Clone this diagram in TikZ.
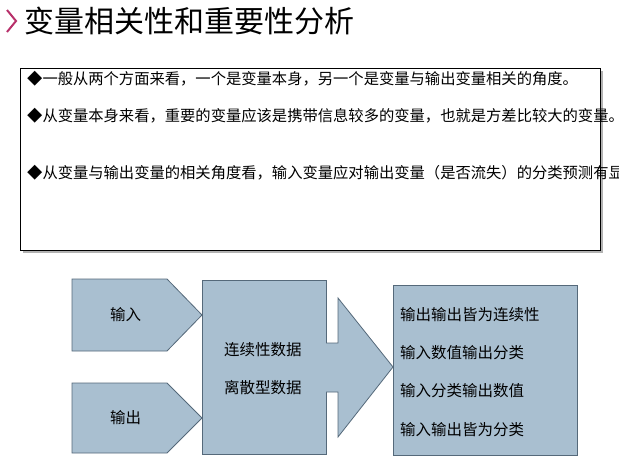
\documentclass[tikz,border=0pt]{standalone}
\usepackage{fontspec}
\setmainfont{Noto Sans CJK SC}
\definecolor{shp}{HTML}{A9BFD0}
\definecolor{shpline}{HTML}{55697A}
\definecolor{chev}{HTML}{B8306A}
\begin{document}
\begin{tikzpicture}[x=1pt,y=-1pt,
  shp box/.style={fill=shp,draw=shpline,line width=0.8pt},
  lbl/.style={font=\fontsize{15.5}{18}\selectfont,anchor=west,inner sep=0pt},
  body/.style={font=\fontsize{15.3}{20}\selectfont,anchor=north west,inner sep=0pt,text width=568pt,align=left}]
\useasboundingbox (0,0) rectangle (619,464);
\fill[white] (0,0) rectangle (619,464);
% title
\draw[chev,line width=2pt] (7,10) -- (16,21) -- (7,32);
\node[anchor=west,inner sep=0pt,font=\fontsize{30}{33}\selectfont] (title) at (24,21) {变量相关性和重要性分析};
% text box
\fill[gray!60] (23,71) rectangle (603,253);
\draw[black,line width=1pt,fill=white] (20,68) rectangle (600,250);
\node[body] (t1) at (27,71) {◆一般从两个方面来看，一个是变量本身，另一个是变量与输出变量相关的角度。};
\node[body] (t2) at (27,108) {◆从变量本身来看，重要的变量应该是携带信息较多的变量，也就是方差比较大的变量。};
\node[body] (t3) at (27,165) {◆从变量与输出变量的相关角度看，输入变量应对输出变量（是否流失）的分类预测有显著意义。};
% shapes
\draw[shp box] (72,279) -- (167,279) -- (202,315) -- (167,351) -- (72,351) -- cycle;
\node[lbl] (in) at (110,315) {输入};
\draw[shp box] (72,383) -- (167,383) -- (202,418) -- (167,453) -- (72,453) -- cycle;
\node[lbl] (out) at (110,418) {输出};
\draw[shp box] (202,280) rectangle (326,454);
\node[lbl] (c1) at (224,350) {连续性数据};
\node[lbl] (c2) at (224,388) {离散型数据};
\draw[shp box] (326,343) -- (338,343) -- (338,298) -- (393,367) -- (338,437) -- (338,392) -- (326,392);
\draw[shp box] (393,285) rectangle (577,455);
\node[lbl] (r1) at (400,315) {输出输出皆为连续性};
\node[lbl] (r2) at (400,353) {输入数值输出分类};
\node[lbl] (r3) at (400,391) {输入分类输出数值};
\node[lbl] (r4) at (400,430) {输入输出皆为分类};
\end{tikzpicture}
\end{document}
